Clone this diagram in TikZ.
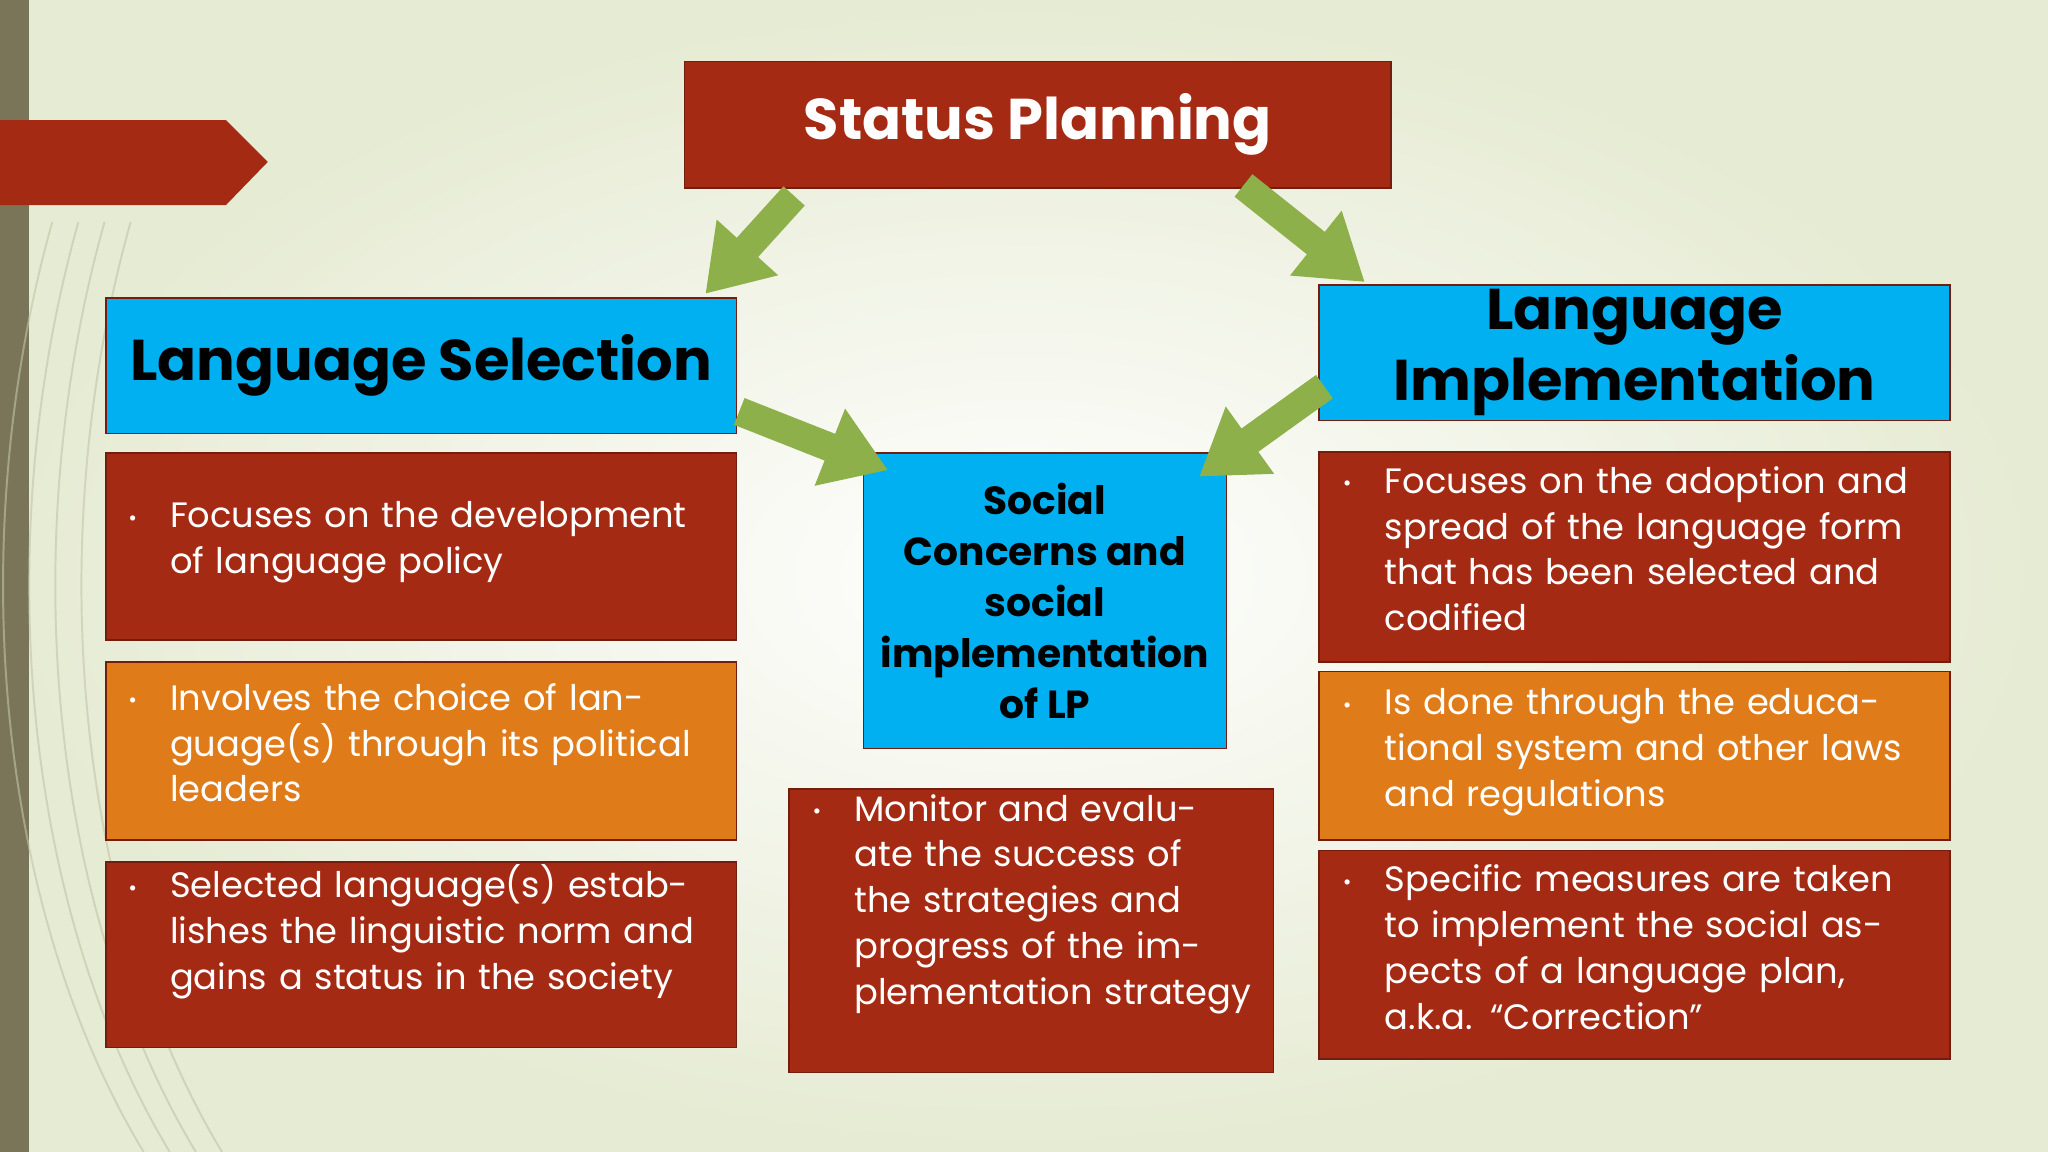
\documentclass[tikz,border=0pt]{standalone}
\usepackage{fontspec}
\setmainfont{Poppins}
\usetikzlibrary{arrows.meta}
\definecolor{rd}{HTML}{A52A14}
\definecolor{org}{HTML}{E07B1A}
\definecolor{cy}{HTML}{00B0F0}
\definecolor{gr}{HTML}{8DB04A}
\definecolor{bgc}{HTML}{E6EBD3}
\definecolor{bar}{HTML}{7A7558}
\tikzset{
  box/.style={draw=rd!70!black, line width=1.2pt},
  gar/.style={draw=gr, line width=22pt, -{Triangle[width=60pt,length=48pt]}},
  btxt/.style={anchor=north west, text=white, inner sep=0pt, text width=#1, align=left,
     font=\fontsize{27}{35}\selectfont},
  ttl/.style={font=\fontsize{44}{54}\selectfont\bfseries, align=center, inner sep=0pt}
}
\newcommand{\bul}[1]{\hangindent=32pt\hangafter=1\makebox[32pt][l]{\raisebox{2pt}{\scalebox{0.6}{•}}}#1\par}
\begin{document}
\begin{tikzpicture}[x=1pt,y=-1pt]
\useasboundingbox (0,0) rectangle (1568,882);
\shade[inner color=white, outer color=bgc] (0,0) rectangle (1568,882);
\fill[bar] (0,0) rectangle (22,882);
% grass
\foreach \a/\b in {80/150, 60/130, 40/110, 100/170}{
  \draw[gr!40!bar!50, line width=1.5pt, opacity=0.6] (\a,170) .. controls (\a-70,420) and (\a-40,700) .. (\b,882);}
\fill[rd] (0,92) -- (173,92) -- (205,124) -- (173,157) -- (0,157) -- cycle;
% boxes
\node[box, fill=rd, minimum width=541pt, minimum height=97pt, text=white, ttl] (sp) at (794.5,95.5) {Status Planning};
\node[box, fill=cy, minimum width=483pt, minimum height=104pt, ttl] (ls) at (322.5,280) {Language Selection};
\node[box, fill=cy, minimum width=483pt, minimum height=104pt, ttl, font=\fontsize{44}{54}\selectfont\bfseries] (li) at (1251.5,270) {Language\\Implementation};
\node[box, fill=cy, minimum width=278pt, minimum height=226pt, font=\fontsize{30}{39}\selectfont\bfseries, align=center, inner sep=0pt] (sc) at (800,460) {Social\\Concerns and\\social\\implementation\\of LP};
\path[box, fill=rd] (81,347) rectangle (564,490) coordinate (b1);
\path[box, fill=org] (81,507) rectangle (564,643) coordinate (b2);
\path[box, fill=rd] (81,660) rectangle (564,802) coordinate (b3);
\path[box, fill=rd] (604,604) rectangle (975,821) coordinate (b4);
\path[box, fill=rd] (1010,346) rectangle (1493,507) coordinate (b5);
\path[box, fill=org] (1010,514) rectangle (1493,643) coordinate (b6);
\path[box, fill=rd] (1010,651) rectangle (1493,811) coordinate (b7);
\node[btxt=440pt] (t1) at (98,384) {\bul{Focuses on the development of language policy}};
\node[btxt=440pt] (t2) at (98,523) {\bul{Involves the choice of language(s) through its political leaders}};
\node[btxt=440pt] (t3) at (98,662) {\bul{Selected language(s) establishes the linguistic norm and gains a status in the society}};
\node[btxt=340pt] (t4) at (622,608) {\bul{Monitor and evaluate the success of the strategies and progress of the implementation strategy}};
\node[btxt=440pt] (t5) at (1028,357) {\bul{Focuses on the adoption and spread of the language form that has been selected and codified}};
\node[btxt=440pt] (t6) at (1028,527) {\bul{Is done through the educational system and other laws and regulations}};
\node[btxt=440pt] (t7) at (1028,662) {\bul{Specific measures are taken to implement the social aspects of a language plan, a.k.a. “Correction”}};
% arrows
\coordinate (a1s) at (608,150); \coordinate (a1e) at (540,225);
\coordinate (a2s) at (952,142); \coordinate (a2e) at (1045,216);
\coordinate (a3s) at (566,315); \coordinate (a3e) at (680,360);
\coordinate (a4s) at (1014,296); \coordinate (a4e) at (918,365);
\draw[gar] (a1s) -- (a1e);
\draw[gar] (a2s) -- (a2e);
\draw[gar] (a3s) -- (a3e);
\draw[gar] (a4s) -- (a4e);
\end{tikzpicture}
\end{document}
